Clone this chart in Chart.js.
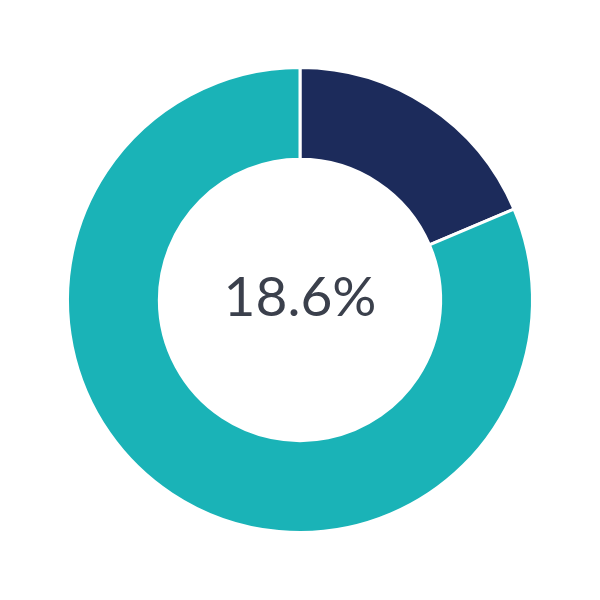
<!DOCTYPE html>
<html>
<head>
<meta charset="utf-8">
<script src="https://cdn.jsdelivr.net/npm/chart.js@4.4.0/dist/chart.umd.min.js"></script>
<style>
  html, body { margin: 0; padding: 0; background: #fff; }
  #wrap { width: 600px; height: 600px; }
</style>
</head>
<body>
<div id="wrap"><canvas id="donut"></canvas></div>
<script>
// Datos del gráfico
const categorias = ["Sí", "No"];
const valores = [18.6, 81.4];
const colores = ["#1c2b5b", "#1ab3b7"];
const etiquetaCentro = "18.6%";

// Plugin para escribir el porcentaje en el centro
const textoCentro = {
  id: "textoCentro",
  afterDraw(chart) {
    const meta = chart.getDatasetMeta(0);
    const arco = meta.data[0];
    if (!arco) return;
    const ctx = chart.ctx;
    ctx.save();
    ctx.font = "55px Lato";
    ctx.fillStyle = "#3b404c";
    ctx.textAlign = "center";
    ctx.textBaseline = "middle";
    ctx.fillText(etiquetaCentro, arco.x, arco.y - 2);
    ctx.restore();
  }
};

const ctx = document.getElementById("donut").getContext("2d");
new Chart(ctx, {
  type: "doughnut",
  data: {
    labels: categorias,
    datasets: [{
      data: valores,
      backgroundColor: colores,
      borderColor: "#ffffff",
      borderWidth: 3,
      hoverOffset: 0
    }]
  },
  options: {
    responsive: true,
    maintainAspectRatio: false,
    animation: false,
    cutout: "60.5%",
    layout: { padding: 66 },
    plugins: {
      legend: { display: false },
      tooltip: { enabled: false }
    }
  },
  plugins: [textoCentro]
});
</script>
</body>
</html>
